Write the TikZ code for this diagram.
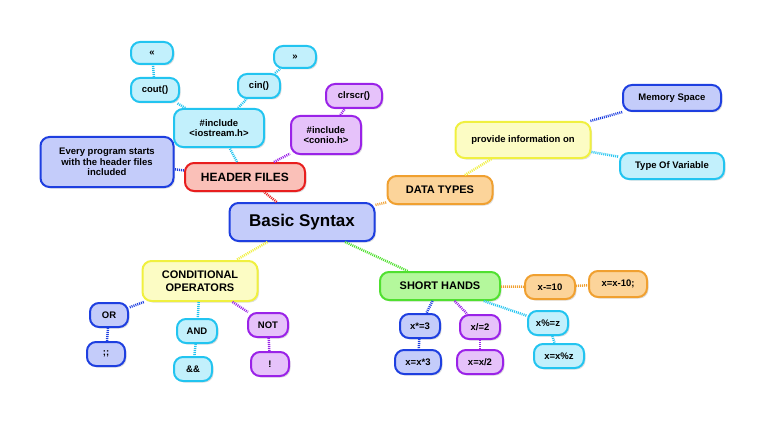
\documentclass[tikz,border=0pt]{standalone}
\usepackage{fontspec}
\setmainfont{Liberation Sans}
\usetikzlibrary{shadows}
\definecolor{cB}{HTML}{1E3FE0}\definecolor{fB}{HTML}{C4CCFA}
\definecolor{cC}{HTML}{22C4F0}\definecolor{fC}{HTML}{C2F0FC}
\definecolor{cP}{HTML}{9A22E8}\definecolor{fP}{HTML}{E6C2FA}
\definecolor{cR}{HTML}{E81E1E}\definecolor{fR}{HTML}{FAC0B8}
\definecolor{cO}{HTML}{F0A030}\definecolor{fO}{HTML}{FCD49A}
\definecolor{cY}{HTML}{F0F040}\definecolor{fY}{HTML}{FCFCC4}
\definecolor{cG}{HTML}{50E030}\definecolor{fG}{HTML}{B4F89C}
\tikzset{
 box/.style={rounded corners=9pt, line width=2pt, align=center, font=\bfseries\fontsize{9.5}{10.5}\selectfont, inner sep=2pt, drop shadow={opacity=0.25,shadow xshift=1.5pt,shadow yshift=-1.5pt}},
 bl/.style={box,draw=cB,fill=fB}, cy/.style={box,draw=cC,fill=fC},
 pu/.style={box,draw=cP,fill=fP}, re/.style={box,draw=cR,fill=fR},
 or/.style={box,draw=cO,fill=fO}, ye/.style={box,draw=cY,fill=fY},
 gr/.style={box,draw=cG,fill=fG},
 sz/.style 2 args={minimum width=#1pt, minimum height=#2pt},
 lk/.style={draw=#1, line width=2.5pt, dash pattern=on 1pt off 1pt}
}
\begin{document}
\begin{tikzpicture}[x=1pt,y=-1pt]
\useasboundingbox (0,0) rectangle (768,425);
\node[bl,sz={145}{38},font=\bfseries\fontsize{17}{19}\selectfont] (root) at (302,222) {Basic Syntax};
\node[re,sz={120}{28},font=\bfseries\fontsize{12}{14}\selectfont] (hf) at (245,177) {HEADER FILES};
\node[bl,sz={133}{50}] (ev) at (107,162) {Every program starts\\with the header files\\included};
\node[cy,sz={90}{38}] (ios) at (219,128) {\#include\\\textless iostream.h\textgreater};
\node[cy,sz={48}{24}] (cout) at (155,90) {cout()};
\node[cy,sz={42}{22}] (ll) at (152,53) {\textless\textless};
\node[cy,sz={42}{24}] (cin) at (259,86) {cin()};
\node[cy,sz={42}{22}] (gg) at (295,57) {\textgreater\textgreater};
\node[pu,sz={56}{24}] (clr) at (354,96) {clrscr()};
\node[pu,sz={70}{38}] (con) at (326,135) {\#include\\\textless conio.h\textgreater};
\node[or,sz={105}{28},font=\bfseries\fontsize{11}{13}\selectfont] (dt) at (440,190) {DATA TYPES};
\node[ye,sz={135}{36}] (pi) at (523,140) {provide information on};
\node[bl,sz={98}{26}] (ms) at (672,98) {Memory Space};
\node[cy,sz={104}{26}] (tv) at (672,166) {Type Of Variable};
\node[ye,sz={115}{40},font=\bfseries\fontsize{11}{13}\selectfont] (co) at (200,281) {CONDITIONAL\\OPERATORS};
\node[bl,sz={38}{24}] (orr) at (109,315) {OR};
\node[bl,sz={38}{24}] (ss) at (106,354) {;;};
\node[cy,sz={40}{24}] (and) at (197,331) {AND};
\node[cy,sz={38}{24}] (aa) at (193,369) {\&\&};
\node[pu,sz={40}{24}] (not) at (268,325) {NOT};
\node[pu,sz={38}{24}] (ex) at (270,364) {!};
\node[gr,sz={120}{28},font=\bfseries\fontsize{11}{13}\selectfont] (sh) at (440,286) {SHORT HANDS};
\node[or,sz={50}{24}] (m10) at (550,287) {x-=10};
\node[or,sz={58}{26}] (xm) at (618,284) {x=x-10;};
\node[bl,sz={40}{24}] (t3) at (420,326) {x*=3};
\node[bl,sz={46}{24}] (xt) at (418,362) {x=x*3};
\node[pu,sz={40}{24}] (d2) at (480,327) {x/=2};
\node[pu,sz={46}{24}] (xd) at (480,362) {x=x/2};
\node[cy,sz={40}{24}] (mz) at (548,323) {x\%=z};
\node[cy,sz={50}{24}] (xz) at (559,356) {x=x\%z};
\draw[lk=cR] (root) -- (hf);
\draw[lk=cB] (hf) -- (ev);
\draw[lk=cC] (hf) -- (ios);
\draw[lk=cC] (ios) -- (cout);
\draw[lk=cC] (cout) -- (ll);
\draw[lk=cC] (ios) -- (cin);
\draw[lk=cC] (cin) -- (gg);
\draw[lk=cP] (hf) -- (con);
\draw[lk=cP] (con) -- (clr);
\draw[lk=cO] (root) -- (dt);
\draw[lk=cY] (dt) -- (pi);
\draw[lk=cB] (pi) -- (ms);
\draw[lk=cC] (pi) -- (tv);
\draw[lk=cY] (root) -- (co);
\draw[lk=cB] (co) -- (orr);
\draw[lk=cB] (orr) -- (ss);
\draw[lk=cC] (co) -- (and);
\draw[lk=cC] (and) -- (aa);
\draw[lk=cP] (co) -- (not);
\draw[lk=cP] (not) -- (ex);
\draw[lk=cG] (root) -- (sh);
\draw[lk=cO] (sh) -- (m10);
\draw[lk=cO] (m10) -- (xm);
\draw[lk=cB] (sh) -- (t3);
\draw[lk=cB] (t3) -- (xt);
\draw[lk=cP] (sh) -- (d2);
\draw[lk=cP] (d2) -- (xd);
\draw[lk=cC] (sh) -- (mz);
\draw[lk=cC] (mz) -- (xz);
\end{tikzpicture}
\end{document}
